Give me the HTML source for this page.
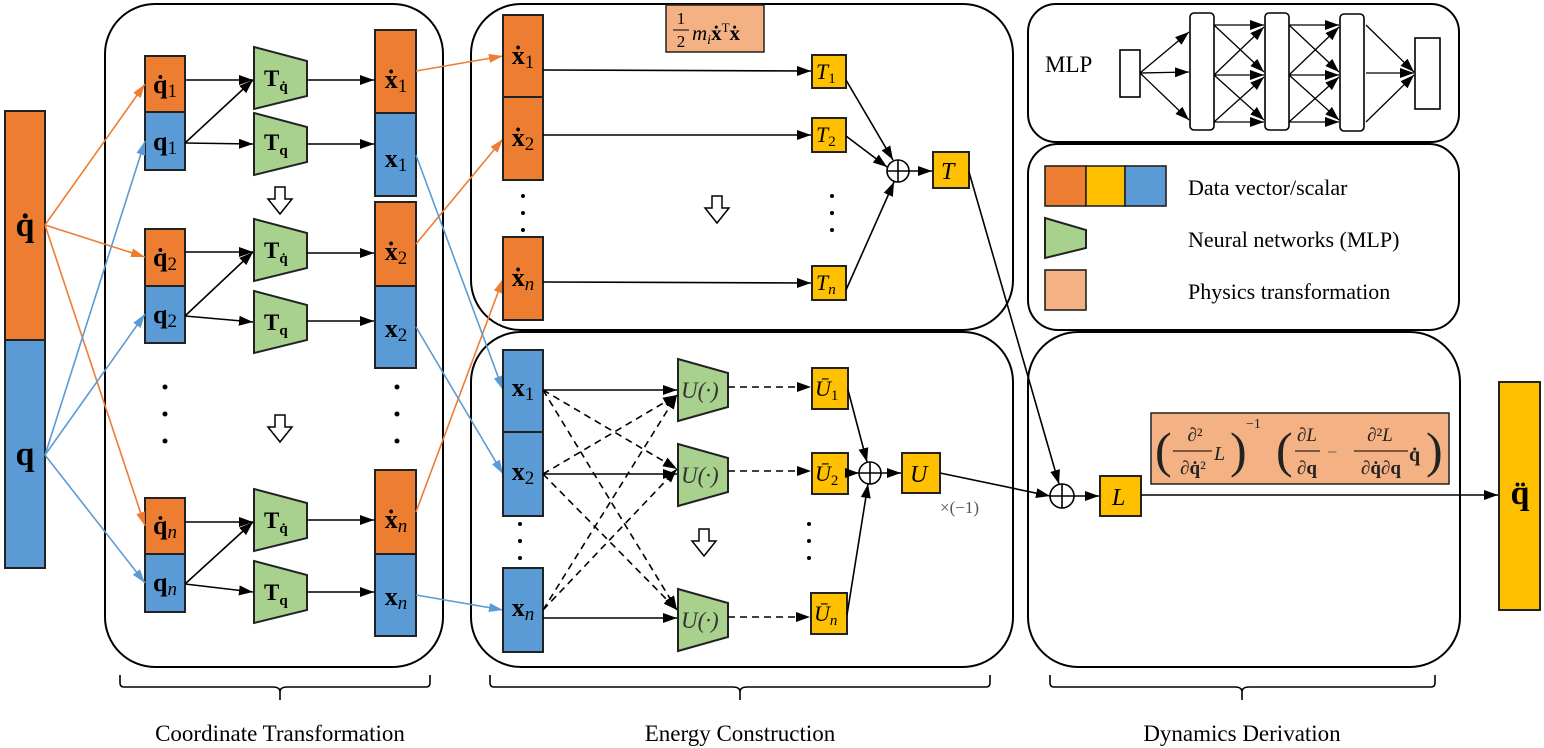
<!DOCTYPE html>
<html><head><meta charset="utf-8"><style>
html,body{margin:0;padding:0;background:#fff;}
svg{display:block;}
text{font-family:"Liberation Serif",serif;}
.b{font-weight:bold;}
.i{font-style:italic;}
</style></head><body>
<svg width="1544" height="748" viewBox="0 0 1544 748" xmlns="http://www.w3.org/2000/svg">
<defs>
<marker id="ak" markerWidth="14" markerHeight="10" refX="14" refY="5" orient="auto" markerUnits="userSpaceOnUse"><path d="M0,0 L14,5 L0,10 z" fill="#000"/></marker>
<marker id="ao" markerWidth="14" markerHeight="9" refX="14" refY="4.5" orient="auto" markerUnits="userSpaceOnUse"><path d="M0,0 L14,4.5 L0,9 z" fill="#ED7D31"/></marker>
<marker id="ab" markerWidth="14" markerHeight="9" refX="14" refY="4.5" orient="auto" markerUnits="userSpaceOnUse"><path d="M0,0 L14,4.5 L0,9 z" fill="#5B9BD5"/></marker>
</defs>
<g fill="none" stroke="#000" stroke-width="2">
<rect x="105" y="4" width="338" height="663" rx="50"/>
<rect x="471" y="4" width="542" height="326" rx="50"/>
<rect x="471" y="332" width="542" height="335" rx="50"/>
<rect x="1028" y="4" width="431" height="138" rx="28"/>
<rect x="1028" y="144" width="431" height="186" rx="30"/>
<rect x="1028" y="332" width="432" height="335" rx="50"/>
</g>
<g stroke="#222" stroke-width="2">
<rect x="5" y="111" width="40" height="229" fill="#ED7D31"/>
<rect x="5" y="340" width="40" height="228" fill="#5B9BD5"/>
<rect x="1499" y="382" width="41" height="228" fill="#FFC000"/>
</g>
<text x="25" y="236" font-size="34" class="b" text-anchor="middle">q̇</text>
<text x="25" y="465" font-size="34" class="b" text-anchor="middle">q</text>
<text x="1520" y="504" font-size="34" class="b" text-anchor="middle">q̈</text>

<g stroke="#222" stroke-width="2">
<rect x="145" y="56" width="40" height="56" fill="#ED7D31"/><rect x="145" y="112" width="40" height="58" fill="#5B9BD5"/>
<rect x="145" y="229" width="40" height="57" fill="#ED7D31"/><rect x="145" y="286" width="40" height="57" fill="#5B9BD5"/>
<rect x="145" y="498" width="40" height="56" fill="#ED7D31"/><rect x="145" y="554" width="40" height="58" fill="#5B9BD5"/>
<rect x="375" y="30" width="41" height="83" fill="#ED7D31"/><rect x="375" y="113" width="41" height="83" fill="#5B9BD5"/>
<rect x="375" y="202" width="41" height="84" fill="#ED7D31"/><rect x="375" y="286" width="41" height="82" fill="#5B9BD5"/>
<rect x="375" y="470" width="41" height="84" fill="#ED7D31"/><rect x="375" y="554" width="41" height="82" fill="#5B9BD5"/>
</g>
<g font-size="26" class="b" text-anchor="middle">
<text x="165" y="93">q̇<tspan font-size="19" font-weight="normal" dy="4">1</tspan></text>
<text x="165" y="150">q<tspan font-size="19" font-weight="normal" dy="4">1</tspan></text>
<text x="165" y="266">q̇<tspan font-size="19" font-weight="normal" dy="4">2</tspan></text>
<text x="165" y="323">q<tspan font-size="19" font-weight="normal" dy="4">2</tspan></text>
<text x="165" y="534">q̇<tspan font-size="19" font-style="italic" font-weight="normal" dy="4">n</tspan></text>
<text x="165" y="591">q<tspan font-size="19" font-style="italic" font-weight="normal" dy="4">n</tspan></text>
<text x="396" y="88">ẋ<tspan font-size="19" font-weight="normal" dy="4">1</tspan></text>
<text x="396" y="167">x<tspan font-size="19" font-weight="normal" dy="4">1</tspan></text>
<text x="396" y="260">ẋ<tspan font-size="19" font-weight="normal" dy="4">2</tspan></text>
<text x="396" y="337">x<tspan font-size="19" font-weight="normal" dy="4">2</tspan></text>
<text x="396" y="528">ẋ<tspan font-size="19" font-style="italic" font-weight="normal" dy="4">n</tspan></text>
<text x="396" y="605">x<tspan font-size="19" font-style="italic" font-weight="normal" dy="4">n</tspan></text>
</g>
<g fill="#A9D18E" stroke="#222" stroke-width="2">
<polygon points="254,47 307,61 307,96 254,109"/>
<polygon points="254,113 307,127 307,162 254,175"/>
<polygon points="254,219 307,233 307,268 254,281"/>
<polygon points="254,291 307,305 307,340 254,353"/>
<polygon points="254,489 307,503 307,538 254,551"/>
<polygon points="254,561 307,575 307,610 254,623"/>
<polygon points="678,359 728,373 728,407 678,421"/>
<polygon points="678,444 728,458 728,492 678,506"/>
<polygon points="678,589 728,603 728,637 678,651"/>
<polygon points="1045,218 1086,230 1086,248 1045,258"/>
</g>
<g font-size="23" class="b">
<text x="264" y="86">T<tspan font-size="15" dy="5">q̇</tspan></text>
<text x="264" y="150">T<tspan font-size="15" dy="5">q</tspan></text>
<text x="264" y="258">T<tspan font-size="15" dy="5">q̇</tspan></text>
<text x="264" y="330">T<tspan font-size="15" dy="5">q</tspan></text>
<text x="264" y="528">T<tspan font-size="15" dy="5">q̇</tspan></text>
<text x="264" y="600">T<tspan font-size="15" dy="5">q</tspan></text>
</g>
<g font-size="23" class="i" fill="#333">
<text x="681" y="398">U(·)</text><text x="681" y="483">U(·)</text><text x="681" y="628">U(·)</text>
</g>
<g fill="#000">
<circle cx="165" cy="387" r="2.5"/><circle cx="165" cy="414" r="2.5"/><circle cx="165" cy="441" r="2.5"/>
<circle cx="397" cy="387" r="2.5"/><circle cx="397" cy="414" r="2.5"/><circle cx="397" cy="441" r="2.5"/>
<circle cx="523" cy="196" r="2"/><circle cx="523" cy="213" r="2"/><circle cx="523" cy="230" r="2"/>
<circle cx="832" cy="196" r="2"/><circle cx="832" cy="213" r="2"/><circle cx="832" cy="230" r="2"/>
<circle cx="520" cy="524" r="2"/><circle cx="520" cy="541" r="2"/><circle cx="520" cy="558" r="2"/>
<circle cx="809" cy="524" r="2"/><circle cx="809" cy="541" r="2"/><circle cx="809" cy="558" r="2"/>
</g>
<g fill="#fff" stroke="#000" stroke-width="1.5">
<path d="M275,187 h10 v12 h7 l-12,15 l-12,-15 h7 z"/>
<path d="M275,415 h10 v12 h7 l-12,15 l-12,-15 h7 z"/>
<path d="M712,196 h10 v12 h7 l-12,15 l-12,-15 h7 z"/>
<path d="M699,529 h10 v12 h7 l-12,15 l-12,-15 h7 z"/>
</g>
<g stroke="#000" stroke-width="1.6" marker-end="url(#ak)">
<line x1="185" y1="80" x2="253" y2="80"/><line x1="185" y1="143" x2="253" y2="80"/><line x1="185" y1="143" x2="253" y2="144"/>
<line x1="307" y1="80" x2="374" y2="80"/><line x1="307" y1="144" x2="374" y2="144"/>
<line x1="185" y1="252" x2="253" y2="252"/><line x1="185" y1="316" x2="253" y2="252"/><line x1="185" y1="316" x2="253" y2="322"/>
<line x1="307" y1="253" x2="374" y2="253"/><line x1="307" y1="321" x2="374" y2="321"/>
<line x1="185" y1="522" x2="253" y2="522"/><line x1="185" y1="584" x2="253" y2="522"/><line x1="185" y1="584" x2="253" y2="592"/>
<line x1="307" y1="520" x2="374" y2="520"/><line x1="307" y1="592" x2="374" y2="592"/>
</g>
<g stroke="#ED7D31" stroke-width="1.6" marker-end="url(#ao)">
<line x1="45" y1="225" x2="145" y2="84"/><line x1="45" y1="225" x2="145" y2="257"/><line x1="45" y1="225" x2="145" y2="526"/>
<line x1="416" y1="71" x2="503" y2="56"/><line x1="416" y1="244" x2="503" y2="139"/><line x1="416" y1="512" x2="503" y2="279"/>
</g>
<g stroke="#5B9BD5" stroke-width="1.6" marker-end="url(#ab)">
<line x1="45" y1="455" x2="145" y2="141"/><line x1="45" y1="455" x2="145" y2="314"/><line x1="45" y1="455" x2="145" y2="583"/>
<line x1="416" y1="155" x2="503" y2="390"/><line x1="416" y1="327" x2="503" y2="474"/><line x1="416" y1="595" x2="503" y2="610"/>
</g>
<g stroke="#222" stroke-width="2">
<rect x="503" y="15" width="40" height="82" fill="#ED7D31"/><rect x="503" y="97" width="40" height="83" fill="#ED7D31"/>
<rect x="503" y="237" width="40" height="83" fill="#ED7D31"/>
<rect x="666" y="5" width="98" height="47" fill="#F4B183" stroke-width="1.5"/>
<rect x="812" y="55" width="34" height="33" fill="#FFC000"/><rect x="812" y="118" width="34" height="34" fill="#FFC000"/>
<rect x="812" y="266" width="34" height="34" fill="#FFC000"/>
<rect x="933" y="152" width="36" height="36" fill="#FFC000"/>
<rect x="503" y="350" width="40" height="82" fill="#5B9BD5"/><rect x="503" y="432" width="40" height="84" fill="#5B9BD5"/>
<rect x="503" y="568" width="40" height="84" fill="#5B9BD5"/>
<rect x="812" y="368" width="36" height="41" fill="#FFC000"/><rect x="812" y="453" width="36" height="41" fill="#FFC000"/>
<rect x="811" y="593" width="36" height="41" fill="#FFC000"/>
<rect x="902" y="453" width="38" height="40" fill="#FFC000"/>
<rect x="1100" y="476" width="41" height="40" fill="#FFC000"/>
<rect x="1151" y="413" width="298" height="71" fill="#F4B183" stroke-width="1.5"/>
</g>
<g font-size="26" class="b" text-anchor="middle">
<text x="523" y="64">ẋ<tspan font-size="19" font-weight="normal" dy="4">1</tspan></text>
<text x="523" y="146">ẋ<tspan font-size="19" font-weight="normal" dy="4">2</tspan></text>
<text x="523" y="286">ẋ<tspan font-size="19" font-style="italic" font-weight="normal" dy="4">n</tspan></text>
<text x="523" y="396">x<tspan font-size="19" font-weight="normal" dy="4">1</tspan></text>
<text x="523" y="480">x<tspan font-size="19" font-weight="normal" dy="4">2</tspan></text>
<text x="523" y="616">x<tspan font-size="19" font-style="italic" font-weight="normal" dy="4">n</tspan></text>
</g>
<g font-size="22" class="i">
<text x="816" y="79">T<tspan font-size="15" font-style="normal" dy="4">1</tspan></text>
<text x="816" y="142">T<tspan font-size="15" font-style="normal" dy="4">2</tspan></text>
<text x="816" y="290">T<tspan font-size="15" dy="4">n</tspan></text>
<text x="941" y="179" font-size="24">T</text>
<text x="815" y="396">Ū<tspan font-size="15" font-style="normal" dy="4">1</tspan></text>
<text x="815" y="481">Ū<tspan font-size="15" font-style="normal" dy="4">2</tspan></text>
<text x="814" y="621">Ū<tspan font-size="15" dy="4">n</tspan></text>
<text x="910" y="482" font-size="24">U</text>
<text x="1112" y="505" font-size="24">L</text>
</g>
<text x="940" y="513" font-size="17" fill="#555">×(−1)</text>
<text x="681" y="24" font-size="17" text-anchor="middle">1</text><line x1="673" y1="30" x2="689" y2="30" stroke="#000" stroke-width="1"/><text x="681" y="47" font-size="17" text-anchor="middle">2</text>
<text x="692" y="40" font-size="21"><tspan class="i">m</tspan><tspan font-size="14" class="i" dy="4">i</tspan><tspan class="b" dy="-4">ẋ</tspan><tspan font-size="13" dy="-8">T</tspan><tspan class="b" dy="8">ẋ</tspan></text>
<g fill="#222">
<text x="1155" y="467" font-size="50">(</text>
<text x="1195" y="441" font-size="19" text-anchor="middle">∂²</text><line x1="1173" y1="451" x2="1212" y2="451" stroke="#000"/><text x="1193" y="474" font-size="19" text-anchor="middle">∂<tspan class="b">q̇</tspan>²</text>
<text x="1214" y="460" font-size="20" class="i">L</text>
<text x="1230" y="467" font-size="50">)</text>
<text x="1246" y="428" font-size="14">−1</text>
<text x="1276" y="467" font-size="50">(</text>
<text x="1307" y="441" font-size="19" text-anchor="middle">∂<tspan class="i">L</tspan></text><line x1="1295" y1="451" x2="1320" y2="451" stroke="#000"/><text x="1307" y="474" font-size="19" text-anchor="middle">∂<tspan class="b">q</tspan></text>
<text x="1327" y="458" font-size="18" fill="#555">−</text>
<text x="1380" y="441" font-size="19" text-anchor="middle">∂²<tspan class="i">L</tspan></text><line x1="1354" y1="451" x2="1408" y2="451" stroke="#000"/><text x="1381" y="474" font-size="19" text-anchor="middle">∂<tspan class="b">q̇</tspan>∂<tspan class="b">q</tspan></text>
<text x="1409" y="461" font-size="20" class="b">q̇</text>
<text x="1426" y="467" font-size="50">)</text>
</g>
<g stroke="#000" stroke-width="1.6" fill="none">
<line x1="543" y1="70" x2="811" y2="71" marker-end="url(#ak)"/>
<line x1="543" y1="135" x2="811" y2="135" marker-end="url(#ak)"/>
<line x1="543" y1="282" x2="811" y2="283" marker-end="url(#ak)"/>
<line x1="846" y1="80" x2="893" y2="160" marker-end="url(#ak)"/>
<line x1="846" y1="136" x2="887" y2="167" marker-end="url(#ak)"/>
<line x1="846" y1="290" x2="894" y2="182" marker-end="url(#ak)"/>
<circle cx="898" cy="171" r="11"/><line x1="887" y1="171" x2="909" y2="171"/><line x1="898" y1="160" x2="898" y2="182"/>
<line x1="909" y1="171" x2="932" y2="171" marker-end="url(#ak)"/>
<line x1="969" y1="172" x2="1059" y2="484" marker-end="url(#ak)"/>
<line x1="543" y1="390" x2="677" y2="390" marker-end="url(#ak)"/>
<line x1="543" y1="474" x2="677" y2="474" marker-end="url(#ak)"/>
<line x1="543" y1="618" x2="677" y2="618" marker-end="url(#ak)"/>
<g stroke-dasharray="7,5">
<line x1="543" y1="390" x2="677" y2="469" marker-end="url(#ak)"/>
<line x1="543" y1="390" x2="677" y2="610" marker-end="url(#ak)"/>
<line x1="543" y1="474" x2="677" y2="395" marker-end="url(#ak)"/>
<line x1="543" y1="474" x2="677" y2="610" marker-end="url(#ak)"/>
<line x1="543" y1="610" x2="677" y2="395" marker-end="url(#ak)"/>
<line x1="543" y1="610" x2="677" y2="469" marker-end="url(#ak)"/>
<line x1="728" y1="387" x2="811" y2="387" marker-end="url(#ak)"/>
<line x1="728" y1="471" x2="811" y2="471" marker-end="url(#ak)"/>
<line x1="728" y1="617" x2="810" y2="617" marker-end="url(#ak)"/>
</g>
<line x1="848" y1="390" x2="867" y2="462" marker-end="url(#ak)"/>
<line x1="848" y1="473" x2="859" y2="473" marker-end="url(#ak)"/>
<line x1="847" y1="615" x2="868" y2="484" marker-end="url(#ak)"/>
<circle cx="870" cy="473" r="11"/><line x1="859" y1="473" x2="881" y2="473"/><line x1="870" y1="462" x2="870" y2="484"/>
<line x1="881" y1="473" x2="901" y2="473" marker-end="url(#ak)"/>
<line x1="940" y1="473" x2="1050" y2="496" marker-end="url(#ak)"/>
<circle cx="1062" cy="496" r="12"/><line x1="1050" y1="496" x2="1074" y2="496"/><line x1="1062" y1="484" x2="1062" y2="508"/>
<line x1="1074" y1="496" x2="1099" y2="496" marker-end="url(#ak)"/>
<line x1="1141" y1="495" x2="1498" y2="495" marker-end="url(#ak)"/>
</g>
<text x="1045" y="72" font-size="23">MLP</text>
<g stroke="#000" stroke-width="1.6" fill="#fff">
<rect x="1120" y="50" width="20" height="47"/>
<rect x="1190" y="13" width="24" height="117" rx="4"/>
<rect x="1265" y="13" width="24" height="117" rx="4"/>
<rect x="1340" y="14" width="24" height="117" rx="4"/>
<rect x="1415" y="38" width="25" height="71"/>
</g>
<g stroke="#000" stroke-width="1.3" marker-end="url(#ak)">
<line x1="1140" y1="73" x2="1189" y2="32"/><line x1="1140" y1="73" x2="1189" y2="72"/><line x1="1140" y1="73" x2="1189" y2="120"/>
<line x1="1214" y1="25" x2="1264" y2="25"/><line x1="1214" y1="25" x2="1264" y2="72"/>
<line x1="1214" y1="75" x2="1264" y2="27"/><line x1="1214" y1="75" x2="1264" y2="75"/><line x1="1214" y1="75" x2="1264" y2="120"/>
<line x1="1214" y1="122" x2="1264" y2="77"/><line x1="1214" y1="122" x2="1264" y2="122"/>
<line x1="1289" y1="25" x2="1339" y2="25"/><line x1="1289" y1="25" x2="1339" y2="72"/>
<line x1="1289" y1="75" x2="1339" y2="27"/><line x1="1289" y1="75" x2="1339" y2="75"/><line x1="1289" y1="75" x2="1339" y2="120"/>
<line x1="1289" y1="122" x2="1339" y2="77"/><line x1="1289" y1="122" x2="1339" y2="122"/>
<line x1="1366" y1="25" x2="1414" y2="72"/><line x1="1366" y1="73" x2="1414" y2="73"/><line x1="1366" y1="122" x2="1414" y2="75"/>
</g>
<g stroke="#222" stroke-width="1.6">
<rect x="1045" y="166" width="41" height="40" fill="#ED7D31"/>
<rect x="1086" y="166" width="39" height="40" fill="#FFC000"/>
<rect x="1125" y="166" width="41" height="40" fill="#5B9BD5"/>
<rect x="1045" y="270" width="41" height="40" fill="#F4B183"/>
</g>
<g font-size="22">
<text x="1188" y="195">Data vector/scalar</text>
<text x="1188" y="247">Neural networks (MLP)</text>
<text x="1188" y="299">Physics transformation</text>
</g>
<g fill="none" stroke="#000" stroke-width="1.6">
<path d="M120,675 v8 q0,4 4,4 h149 q7,0 7,5 v8 M280,700 v-8 q0,-5 7,-5 h139 q4,0 4,-4 v-8"/>
<path d="M490,675 v8 q0,4 4,4 h239 q7,0 7,5 v8 M740,700 v-8 q0,-5 7,-5 h239 q4,0 4,-4 v-8"/>
<path d="M1050,675 v8 q0,4 4,4 h181 q7,0 7,5 v8 M1242,700 v-8 q0,-5 7,-5 h182 q4,0 4,-4 v-8"/>
</g>
<g font-size="23" text-anchor="middle">
<text x="280" y="741">Coordinate Transformation</text>
<text x="740" y="741">Energy Construction</text>
<text x="1242" y="741">Dynamics Derivation</text>
</g>
</svg>
</body></html>
